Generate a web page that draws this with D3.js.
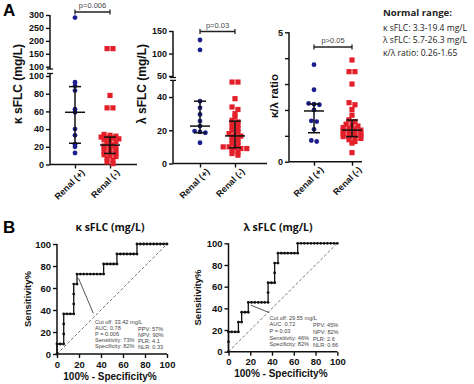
<!DOCTYPE html>
<html>
<head>
<meta charset="utf-8">
<script src="https://cdn.jsdelivr.net/npm/d3@7"></script>
<style>
  body { margin: 0; background: #fff; }
  svg { display: block; }
</style>
</head>
<body>
<svg id="chart" width="474" height="384"></svg>
<script>
// ---- data ----
const groups = ["Renal (+)", "Renal (-)"];

const kappaPos = [290, 93, 89, 83.5, 62.5, 59, 40, 33, 23, 20, 13];
const kappaNeg = [170, 170, 78, 64, 64, 34, 33, 32, 31, 30, 30, 29, 28, 27, 26, 24, 22,
  21, 20, 19, 18, 17, 16, 14, 13, 12, 11, 10, 9, 7, 5, 3, 1];
const kappaMedian = [59, 22];
const kappaQ1 = [24, 12.5];
const kappaQ3 = [88, 31];

const lambdaPos = [130, 108, 37.5, 33.5, 29.5, 25.5, 22.5, 19.5, 19, 18.5, 12.5];
const lambdaNeg = [49, 49, 39, 34, 32.5, 30, 28, 26, 25, 24, 23, 22, 21, 20, 19, 18, 17,
  16.5, 16, 15, 14, 13, 12, 11, 10, 10, 9.5, 9, 9, 8, 7, 6, 5];
const lambdaMedian = [22.5, 16.6];
const lambdaQ1 = [18.5, 9.5];
const lambdaQ3 = [37.5, 25.5];

const ratioPos = [3.75, 2.78, 2.25, 2.22, 2.2, 2.0, 1.58, 1.55, 1.25, 0.82, 0.78];
const ratioNeg = [3.93, 3.48, 3.48, 3.0, 2.28, 2.2, 2.02, 1.8, 1.62, 1.55, 1.45, 1.42, 1.38,
  1.32, 1.3, 1.25, 1.22, 1.2, 1.18, 1.15, 1.1, 1.08, 1.05, 1.02, 1.0, 0.97, 0.95, 0.92,
  0.9, 0.85, 0.78, 0.72, 0.35];
const ratioMedian = [1.96, 1.22];
const ratioQ1 = [1.12, 0.97];
const ratioQ3 = [2.23, 1.61];

const pLabels = ["p=0.006", "p=0.03", "p>0.05"];
const normalTitle = "Normal range:";
const normalRange = ["κ sFLC: 3.3-19.4 mg/L", "λ sFLC: 5.7-26.3 mg/L", "κ/λ ratio: 0.26-1.65"];

// ROC curves (100% - specificity, sensitivity)
const kappaFpr = [0, 0, 3.0, 6.1, 6.1, 6.1, 6.1, 9.1, 12.1, 15.2, 15.2, 15.2, 15.2, 18.2, 18.2,
  21.2, 24.2, 27.3, 30.3, 33.3, 36.4, 39.4, 42.4, 42.4, 45.5, 48.5, 51.5, 54.5, 54.5, 57.6,
  60.6, 63.6, 66.7, 69.7, 72.7, 72.7, 75.8, 78.8, 81.8, 84.8, 87.9, 90.9, 93.9, 97.0, 100];
const kappaTpr = [0, 9.1, 9.1, 9.1, 18.2, 27.3, 36.4, 36.4, 36.4, 36.4, 45.5, 54.5, 63.6, 63.6, 72.7,
  72.7, 72.7, 72.7, 72.7, 72.7, 72.7, 72.7, 72.7, 81.8, 81.8, 81.8, 81.8, 81.8, 90.9, 90.9,
  90.9, 90.9, 90.9, 90.9, 90.9, 100, 100, 100, 100, 100, 100, 100, 100, 100, 100];
const lambdaFpr = [0, 0, 0, 3.0, 6.1, 9.1, 9.1, 12.1, 12.1, 15.2, 18.2, 18.2, 21.2, 24.2, 27.3,
  30.3, 33.3, 36.4, 36.4, 36.4, 39.4, 42.4, 42.4, 42.4, 45.5, 45.5, 48.5, 51.5, 54.5, 57.6,
  60.6, 63.6, 63.6, 66.7, 69.7, 72.7, 75.8, 78.8, 81.8, 84.8, 87.9, 90.9, 93.9, 97.0, 100];
const lambdaTpr = [0, 9.1, 18.2, 18.2, 18.2, 18.2, 27.3, 27.3, 36.4, 36.4, 36.4, 45.5, 45.5, 45.5, 45.5,
  45.5, 45.5, 45.5, 54.5, 63.6, 63.6, 63.6, 72.7, 81.8, 81.8, 90.9, 90.9, 90.9, 90.9, 90.9,
  90.9, 90.9, 100, 100, 100, 100, 100, 100, 100, 100, 100, 100, 100, 100, 100];
const rocTicks = [0, 20, 40, 60, 80, 100];

const kappaStatsLeft = ["AUC: 0.78", "P = 0.006", "Sensitivity: 73%", "Specificity: 82%"];
const kappaStatsRight = ["PPV: 57%", "NPV: 90%", "PLR: 4.1", "NLR: 0.33"];
const lambdaStatsLeft = ["AUC: 0.72", "P = 0.03", "Sensitivity: 46%", "Specificity: 82%"];
const lambdaStatsRight = ["PPV: 45%", "NPV: 82%", "PLR: 2.6", "NLR: 0.66"];

// ---- drawing ----
const svg = d3.select("#chart");
const blue = "#1c1f8e", red = "#e3202a";
const axisFont = "'Liberation Sans', Arial, sans-serif";
const labelFont = "'Open Sans', 'Noto Sans', sans-serif";

function styleAxis(g, size) {
  g.select(".domain").remove();
  g.selectAll(".tick line").attr("stroke", "#111").attr("stroke-width", 1.4);
  g.selectAll(".tick text")
    .attr("font-family", axisFont).attr("font-weight", "bold")
    .attr("font-size", size || 9.5).attr("fill", "#111");
}

// horizontal offsets so overlapping points sit side by side (rows)
function swarm(values, yOf, step) {
  const pts = values.map(v => ({ v: v, y: yOf(v) })).sort((a, b) => a.y - b.y);
  const rows = [];
  pts.forEach(p => {
    const row = rows[rows.length - 1];
    if (row && p.y - row[0].y < 2.6 && row.length < 5) row.push(p);
    else rows.push([p]);
  });
  rows.forEach(row => row.forEach((p, i) => { p.dx = (i - (row.length - 1) / 2) * step; }));
  return pts;
}

function scatterPanel(cfg) {
  const g = svg.append("g");
  const x = d3.scalePoint().domain(groups).range(cfg.pos);
  const segs = cfg.segments.map(s => Object.assign({}, s,
    { scale: d3.scaleLinear().domain(s.domain).range(s.range) }));
  const yOf = v => segs.find(s => v <= s.domain[1]).scale(v);

  // y axis segments
  segs.forEach(s => {
    const ax = g.append("g")
      .attr("transform", "translate(" + cfg.x0 + ",0)")
      .call(d3.axisLeft(s.scale).tickValues(s.ticks).tickSize(4).tickPadding(2)
        .tickFormat(s.fmt || d3.format("d")));
    styleAxis(ax, 9);
    g.append("line")
      .attr("x1", cfg.x0).attr("x2", cfg.x0)
      .attr("y1", s.ext[0]).attr("y2", s.ext[1])
      .attr("stroke", "#111").attr("stroke-width", 1.5);
    if (s.caps) {
      s.caps.forEach(cy => g.append("line")
        .attr("x1", cfg.x0 - 3).attr("x2", cfg.x0 + 3)
        .attr("y1", cy).attr("y2", cy)
        .attr("stroke", "#111").attr("stroke-width", 1.3));
    }
  });

  // x axis
  const baseY = segs[0].range[0];
  const xa = g.append("g")
    .attr("transform", "translate(0," + baseY + ")")
    .call(d3.axisBottom(x).tickSize(4).tickSizeOuter(0));
  styleAxis(xa, 9);
  xa.selectAll(".tick text")
    .attr("text-anchor", "end")
    .attr("transform", "translate(3,2) rotate(-45)")
    .attr("dy", "0.5em").attr("y", 5).attr("x", 0);
  g.append("line")
    .attr("x1", cfg.x0).attr("x2", cfg.x1)
    .attr("y1", baseY).attr("y2", baseY)
    .attr("stroke", "#111").attr("stroke-width", 1.5);

  // y title
  g.append("text")
    .attr("transform", "translate(" + cfg.titleX + "," + cfg.titleY + ") rotate(-90)")
    .attr("text-anchor", "middle")
    .attr("font-family", axisFont).attr("font-weight", "bold")
    .attr("font-size", cfg.titleSize).attr("fill", "#111")
    .text(cfg.title);

  // points
  const posPts = swarm(cfg.data[0], yOf, 5.4);
  g.selectAll(".pos").data(posPts).join("circle")
    .attr("cx", d => x(groups[0]) + d.dx).attr("cy", d => d.y)
    .attr("r", 2.4).attr("fill", blue);
  const negPts = swarm(cfg.data[1], yOf, 5.9);
  g.selectAll(".neg").data(negPts).join("rect")
    .attr("x", d => x(groups[1]) + d.dx - 2.6).attr("y", d => d.y - 2.6)
    .attr("width", 5.2).attr("height", 5.2).attr("fill", red);

  // median + IQR
  groups.forEach((grp, i) => {
    const cx = x(grp);
    const lines = [
      [cx, yOf(cfg.q1[i]), cx, yOf(cfg.q3[i])],
      [cx - 10, yOf(cfg.median[i]), cx + 10, yOf(cfg.median[i])],
      [cx - 6, yOf(cfg.q1[i]), cx + 6, yOf(cfg.q1[i])],
      [cx - 6, yOf(cfg.q3[i]), cx + 6, yOf(cfg.q3[i])]
    ];
    lines.forEach(l => g.append("line")
      .attr("x1", l[0]).attr("y1", l[1]).attr("x2", l[2]).attr("y2", l[3])
      .attr("stroke", "#111").attr("stroke-width", 1.5));
  });

  // significance bracket
  const bx0 = x(groups[0]), bx1 = x(groups[1]), by = cfg.bracketY;
  [[bx0, by, bx1, by], [bx0, by - 2.5, bx0, by + 2.5], [bx1, by - 2.5, bx1, by + 2.5]]
    .forEach(l => g.append("line")
      .attr("x1", l[0]).attr("y1", l[1]).attr("x2", l[2]).attr("y2", l[3])
      .attr("stroke", "#222").attr("stroke-width", 1.3));
  g.append("text")
    .attr("x", (bx0 + bx1) / 2).attr("y", by - 4)
    .attr("text-anchor", "middle")
    .attr("font-family", axisFont).attr("font-size", 7.5).attr("fill", "#444")
    .text(cfg.p);
}

scatterPanel({
  x0: 50, x1: 137, pos: [75, 110],
  segments: [
    { domain: [0, 100], range: [164.5, 76], ticks: [0, 20, 40, 60, 80, 100], ext: [164.5, 73.5], caps: [73.5] },
    { domain: [100, 300], range: [66.7, 15], ticks: [100, 150, 200, 250, 300], ext: [15, 69], caps: [69] }
  ],
  data: [kappaPos, kappaNeg], median: kappaMedian, q1: kappaQ1, q3: kappaQ3,
  title: "κ sFLC (mg/L)", titleX: 22, titleY: 84, titleSize: 12,
  bracketY: 12, p: pLabels[0]
});

scatterPanel({
  x0: 173, x1: 267, pos: [200, 235],
  segments: [
    { domain: [0, 50], range: [163.5, 80.4], ticks: [0, 20, 40], ext: [163.5, 80.4], caps: [80.4] },
    { domain: [50, 150], range: [76, 31], ticks: [50, 100, 150], ext: [31, 77.5], caps: [77.5] }
  ],
  data: [lambdaPos, lambdaNeg], median: lambdaMedian, q1: lambdaQ1, q3: lambdaQ3,
  title: "λ sFLC (mg/L)", titleX: 146, titleY: 84, titleSize: 12,
  bracketY: 31.5, p: pLabels[1]
});

scatterPanel({
  x0: 289, x1: 362, pos: [314, 352],
  segments: [
    { domain: [0, 5], range: [161.7, 32.3], ticks: [0, 1, 2, 3, 4, 5], ext: [161.7, 32.3],
      fmt: d => (d === 0 || d === 5) ? d : "" }
  ],
  data: [ratioPos, ratioNeg], median: ratioMedian, q1: ratioQ1, q3: ratioQ3,
  title: "κ/λ ratio", titleX: 278, titleY: 96, titleSize: 11.5,
  bracketY: 47, p: pLabels[2]
});

// normal range note
const note = svg.append("g").attr("font-family", labelFont).attr("fill", "#222");
note.append("text").attr("x", 383).attr("y", 16)
  .attr("font-size", 9.6).attr("font-weight", "bold").text(normalTitle);
note.selectAll(".nr").data(normalRange).join("text")
  .attr("x", 383).attr("y", (d, i) => 30.5 + i * 12.5)
  .attr("font-size", 8.6).text(d => d);

// panel letters
[["A", 16], ["B", 233]].forEach(l => svg.append("text")
  .attr("x", 3).attr("y", l[1])
  .attr("font-family", axisFont).attr("font-weight", "bold").attr("font-size", 17)
  .text(l[0]));

function rocPanel(cfg) {
  const g = svg.append("g");
  const x = d3.scaleLinear().domain([0, 100]).range([cfg.x0, cfg.x1]);
  const y = d3.scaleLinear().domain([0, 100]).range([cfg.y0, cfg.y1]);

  const ya = g.append("g").attr("transform", "translate(" + cfg.x0 + ",0)")
    .call(d3.axisLeft(y).tickValues(rocTicks).tickSize(4).tickPadding(2));
  styleAxis(ya);
  const xa = g.append("g").attr("transform", "translate(0," + cfg.y0 + ")")
    .call(d3.axisBottom(x).tickValues(rocTicks).tickSize(4));
  styleAxis(xa);
  g.append("path")
    .attr("d", "M" + cfg.x0 + "," + cfg.y1 + "V" + cfg.y0 + "H" + cfg.x1)
    .attr("fill", "none").attr("stroke", "#111").attr("stroke-width", 1.5);

  // chance line
  g.append("line")
    .attr("x1", x(0)).attr("y1", y(0)).attr("x2", x(100)).attr("y2", y(100))
    .attr("stroke", "#777").attr("stroke-width", 1).attr("stroke-dasharray", "3,2");

  const pts = cfg.fpr.map((f, i) => [x(f), y(cfg.tpr[i])]);
  g.append("path").attr("d", d3.line()(pts))
    .attr("fill", "none").attr("stroke", "#111").attr("stroke-width", 1.3);
  g.selectAll(".rp").data(pts).join("circle")
    .attr("cx", d => d[0]).attr("cy", d => d[1]).attr("r", 1.4).attr("fill", "#111");

  // cut-off annotation
  g.append("line")
    .attr("x1", x(cfg.leader[0])).attr("y1", y(cfg.leader[1]))
    .attr("x2", x(cfg.leader[2])).attr("y2", y(cfg.leader[3]))
    .attr("stroke", "#555").attr("stroke-width", 1);
  const t = g.append("g").attr("font-family", axisFont).attr("font-size", 5.6).attr("fill", "#444");
  t.append("text").attr("x", cfg.textX).attr("y", cfg.textY).text(cfg.cutoff);
  cfg.left.forEach((s, i) => t.append("text")
    .attr("x", cfg.textX).attr("y", cfg.textY + (i + 1) * cfg.lineH).text(s));
  cfg.right.forEach((s, i) => t.append("text")
    .attr("x", cfg.textX2).attr("y", cfg.textY + (i + 1) * cfg.lineH + 1).text(s));

  // titles
  g.append("text").attr("x", cfg.titleX).attr("y", 231)
    .attr("text-anchor", "middle").attr("font-family", labelFont)
    .attr("font-weight", "bold").attr("font-size", 10.5).attr("fill", "#111")
    .text(cfg.title);
  g.append("text").attr("x", (cfg.x0 + cfg.x1) / 2 - 2).attr("y", cfg.xLabelY)
    .attr("text-anchor", "middle").attr("font-family", axisFont)
    .attr("font-weight", "bold").attr("font-size", 10).attr("fill", "#111")
    .text("100% - Specificity%");
  g.append("text")
    .attr("transform", "translate(" + cfg.yLabelX + "," + (cfg.y0 + cfg.y1) / 2 + ") rotate(-90)")
    .attr("text-anchor", "middle").attr("font-family", axisFont)
    .attr("font-weight", "bold").attr("font-size", 9.5).attr("fill", "#111")
    .text("Sensitivity%");
}

rocPanel({
  x0: 57, x1: 167, y0: 354, y1: 244,
  fpr: kappaFpr, tpr: kappaTpr,
  leader: [19.5, 69, 33, 37],
  cutoff: "Cut off: 33.42 mg/L", left: kappaStatsLeft, right: kappaStatsRight,
  textX: 95, textX2: 138, textY: 323.5, lineH: 6.1,
  title: "κ sFLC (mg/L)", titleX: 110, xLabelY: 380, yLabelX: 31
});

rocPanel({
  x0: 228.5, x1: 337.3, y0: 351.7, y1: 243.3,
  fpr: lambdaFpr, tpr: lambdaTpr,
  leader: [20.4, 43, 37.5, 36],
  cutoff: "Cut off: 29.55 mg/L", left: lambdaStatsLeft, right: lambdaStatsRight,
  textX: 269.5, textX2: 313, textY: 319.5, lineH: 6.7,
  title: "λ sFLC (mg/L)", titleX: 278, xLabelY: 377, yLabelX: 201
});
</script>
</body>
</html>
